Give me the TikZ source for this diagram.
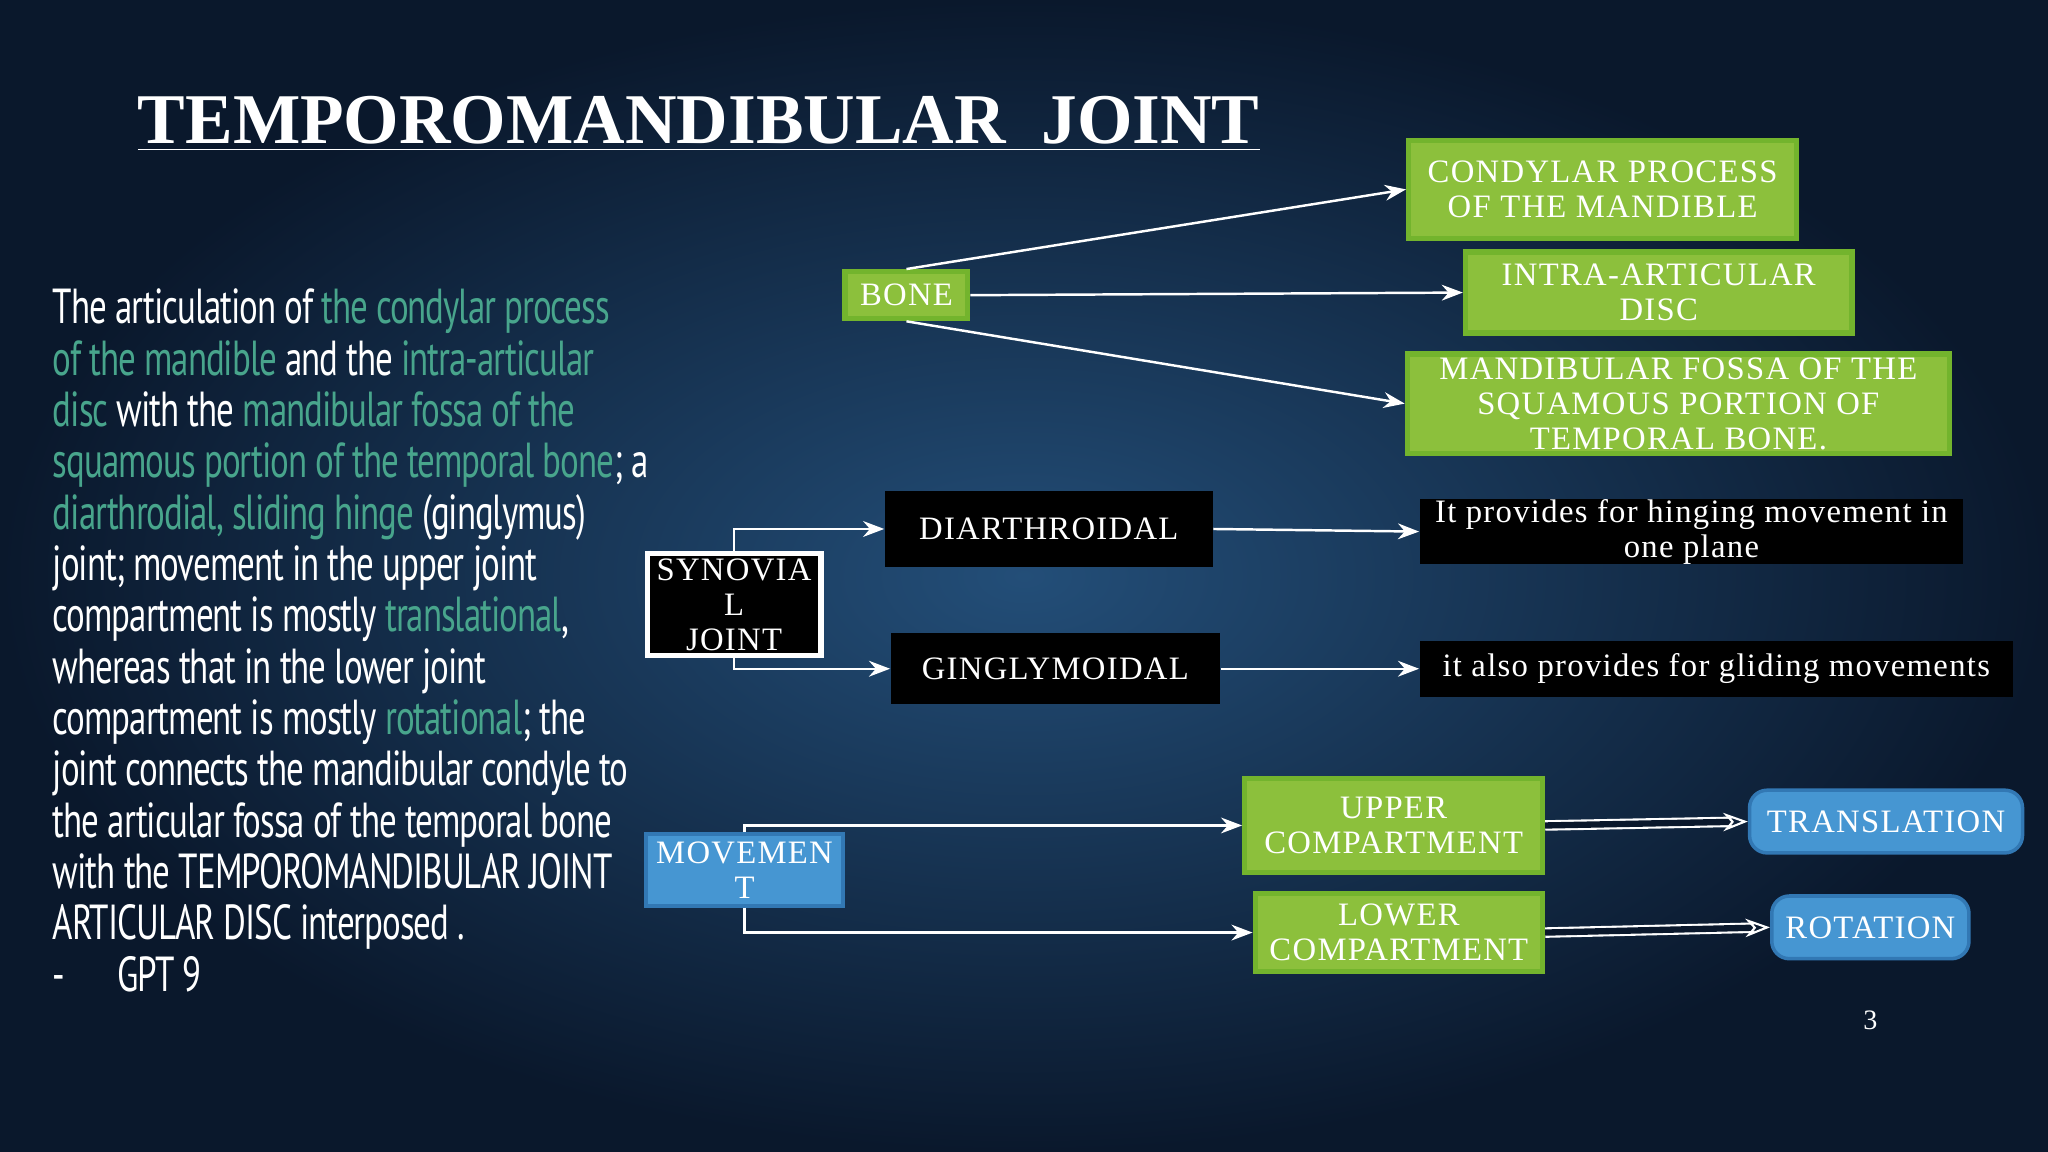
\documentclass[tikz,border=0pt]{standalone}
\usepackage{fontspec}
\usepackage{graphicx}
\setmainfont{Liberation Serif}
\newfontfamily\bodyf[LetterSpace=-3]{PT Sans}
\usetikzlibrary{arrows.meta,shadings}
\definecolor{bgin}{RGB}{35,78,120}
\definecolor{bgout}{RGB}{10,24,44}
\definecolor{gfill}{RGB}{140,192,60}
\definecolor{gedge}{RGB}{115,180,45}
\definecolor{bfill}{RGB}{70,150,210}
\definecolor{bedge}{RGB}{50,120,180}
\definecolor{teal}{RGB}{72,165,140}
\tikzset{
 sz/.style 2 args={minimum width={#1*0.01306cm},minimum height={#2*0.01306cm}},
 bf/.style={font=\addfontfeatures{LetterSpace=4}\fontsize{9.3}{10}\selectfont},
 gbox/.style={draw=gedge,line width=1.5pt,fill=gfill,text=white,align=center,bf,inner sep=0pt},
 kbox/.style={fill=black,text=white,align=center,bf,inner sep=0pt},
 bbox/.style={draw=bedge,line width=1pt,fill=bfill,text=white,align=center,bf,inner sep=0pt},
 arr/.style={white,line width=0.7pt,-{Stealth[length=6pt]}},
 darr/.style={white,double=bgout,double distance=1.8pt,line width=0.6pt,-{Stealth[length=7pt,open]}},
}
\begin{document}
\begin{tikzpicture}[x=0.01306cm,y=-0.01306cm]
\useasboundingbox (0,0) rectangle (1568,882);
\shade[inner color=bgin,outer color=bgout] (0,0) rectangle (1568,882);
\node[anchor=west,text=white,inner sep=0pt,font=\fontsize{20.3}{24}\selectfont\bfseries] (title) at (105,95) {\underline{TEMPOROMANDIBULAR\ \ JOINT}};
\node[anchor=north west,text=white,inner sep=0pt] (body) at (40,220) {\scalebox{0.71}[1]{\bodyf\fontsize{14}{14.6}\selectfont
\begin{tabular}{@{}l@{}}
The articulation of \textcolor{teal}{the condylar process}\\
\textcolor{teal}{of the mandible} and the \textcolor{teal}{intra-articular}\\
\textcolor{teal}{disc} with the \textcolor{teal}{mandibular fossa of the}\\
\textcolor{teal}{squamous portion of the temporal bone}; a\\
\textcolor{teal}{diarthrodial, sliding hinge} (ginglymus)\\
joint; movement in the upper joint\\
compartment is mostly \textcolor{teal}{translational},\\
whereas that in the lower joint\\
compartment is mostly \textcolor{teal}{rotational}; the\\
joint connects the mandibular condyle to\\
the articular fossa of the temporal bone\\
with the TEMPOROMANDIBULAR JOINT\\
ARTICULAR DISC interposed .\\
-\quad\ \ GPT 9
\end{tabular}}};
% green
\node[gbox,sz={297}{75}] (cond) at (1227,145) {CONDYLAR PROCESS\\OF THE MANDIBLE};
\node[gbox,sz={94}{36}] (bone) at (694,226) {BONE};
\node[gbox,sz={296}{62}] (intra) at (1270,224) {INTRA-ARTICULAR\\DISC};
\node[gbox,sz={415}{76}] (fossa) at (1285,309) {MANDIBULAR FOSSA OF THE\\SQUAMOUS PORTION OF\\TEMPORAL BONE.};
\draw[arr] (bone.north) -- (cond.west);
\draw[arr] (bone.east) -- (intra.west);
\draw[arr] (bone.south) -- (fossa.west);
% black
\node[kbox,sz={251}{58}] (dia) at (803,405) {DIARTHROIDAL};
\node[kbox,draw=white,line width=1.5pt,sz={133}{78}] (syn) at (562,463) {SYNOVIA\\L\\JOINT};
\node[kbox,sz={252}{54}] (gin) at (808,512) {GINGLYMOIDAL};
\node[kbox,sz={416}{41}] (t1) at (1295,407) {It provides for hinging movement in\\one plane};
\node[kbox,sz={454}{43}] (t2) at (1314,512) {it also provides for gliding movements};
\draw[arr] (syn.north) |- (dia.west);
\draw[arr] (syn.south) |- (gin.west);
\draw[arr] (dia.east) -- (t1.west);
\draw[arr] (gin.east) -- (t2.west);
% movement
\node[bbox,sz={151}{55}] (mov) at (570,666) {MOVEMEN\\T};
\node[gbox,sz={228}{72}] (up) at (1067,632) {UPPER\\COMPARTMENT};
\node[gbox,sz={220}{60}] (low) at (1071,714) {LOWER\\COMPARTMENT};
\node[bbox,rounded corners=5pt,sz={209}{48}] (tr) at (1444,629) {TRANSLATION};
\node[bbox,rounded corners=5pt,sz={151}{48}] (rot) at (1432,710) {ROTATION};
\draw[arr] (mov.north) |- (up.west);
\draw[arr] (mov.south) |- (low.west);
\draw[darr] (up.east) -- (tr.west);
\draw[darr] (low.east) -- (rot.west);
\node[text=white,font=\fontsize{8}{10}\selectfont] (pg) at (1432,781) {3};
\end{tikzpicture}
\end{document}
